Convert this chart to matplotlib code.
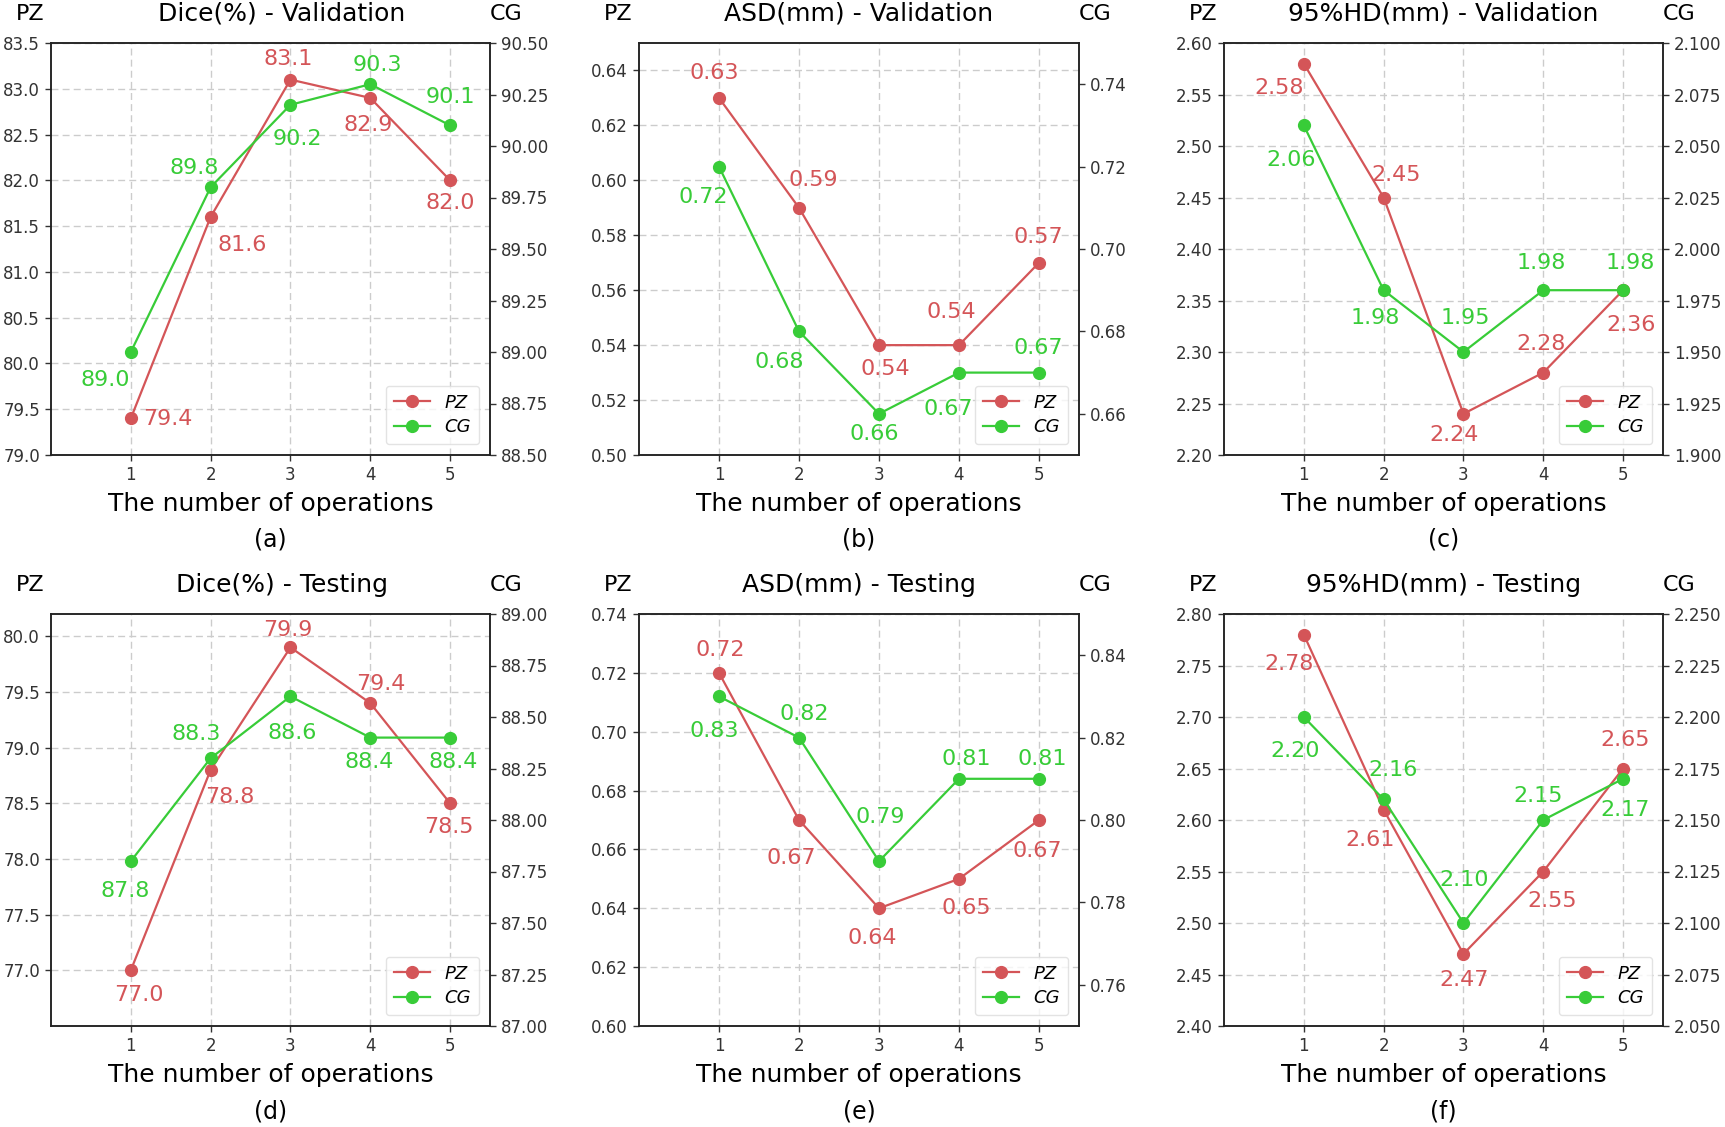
import matplotlib
matplotlib.use("Agg")
import matplotlib.pyplot as plt
import numpy as np

# ---------------- data ----------------
operations = [1, 2, 3, 4, 5]

dice_val_pz = [79.4, 81.6, 83.1, 82.9, 82.0]
dice_val_cg = [89.0, 89.8, 90.2, 90.3, 90.1]
asd_val_pz = [0.63, 0.59, 0.54, 0.54, 0.57]
asd_val_cg = [0.72, 0.68, 0.66, 0.67, 0.67]
hd_val_pz = [2.58, 2.45, 2.24, 2.28, 2.36]
hd_val_cg = [2.06, 1.98, 1.95, 1.98, 1.98]

dice_test_pz = [77.0, 78.8, 79.9, 79.4, 78.5]
dice_test_cg = [87.8, 88.3, 88.6, 88.4, 88.4]
asd_test_pz = [0.72, 0.67, 0.64, 0.65, 0.67]
asd_test_cg = [0.83, 0.82, 0.79, 0.81, 0.81]
hd_test_pz = [2.78, 2.61, 2.47, 2.55, 2.65]
hd_test_cg = [2.20, 2.16, 2.10, 2.15, 2.17]

titles = ["Dice(%) - Validation", "ASD(mm) - Validation", "95%HD(mm) - Validation",
          "Dice(%) - Testing", "ASD(mm) - Testing", "95%HD(mm) - Testing"]
sublabels = ["(a)", "(b)", "(c)", "(d)", "(e)", "(f)"]
xlabel = "The number of operations"
series_names = ["PZ", "CG"]

# ---------------- layout / style ----------------
W, H = 1725, 1127
RED = "#d45558"
GREEN = "#38cc38"
FONT = "DejaVu Sans"

col_lr = [(51, 490), (639, 1079), (1224, 1663)]
row_tb = [(43, 455), (614, 1026)]
title_dx = [11, 0, 0, 11, 0, 0]
OFF_SCALE = 1.08

panels = [
    dict(pz=dice_val_pz, cg=dice_val_cg, fmt="%.1f",
         ylim=(79.0, 83.5), yt=np.arange(79.0, 83.51, 0.5), yfmt="%.1f",
         ylim2=(88.5, 90.5), yt2=np.arange(88.5, 90.51, 0.25), yfmt2="%.2f",
         off_pz=[(34, 0), (29, -25), (-2, 20), (-2, -24), (0, -20)],
         off_cg=[(-24, -25), (-15, 19), (6, -31), (7, 19), (0, 27)]),
    dict(pz=asd_val_pz, cg=asd_val_cg, fmt="%.2f",
         ylim=(0.50, 0.65), yt=np.arange(0.50, 0.641, 0.02), yfmt="%.2f",
         ylim2=(0.65, 0.75), yt2=np.arange(0.66, 0.741, 0.02), yfmt2="%.2f",
         off_pz=[(-4, 24), (13, 27), (6, -21), (-7, 32), (-1, 25)],
         off_cg=[(-15, -27), (-18, -27), (-4, -18), (-10, -33), (-1, 24)]),
    dict(pz=hd_val_pz, cg=hd_val_cg, fmt="%.2f",
         ylim=(2.20, 2.60), yt=np.arange(2.20, 2.601, 0.05), yfmt="%.2f",
         ylim2=(1.900, 2.100), yt2=np.arange(1.900, 2.1001, 0.025), yfmt2="%.3f",
         off_pz=[(-23, -22), (12, 22), (-9, -19), (-2, 27), (7, -31)],
         off_cg=[(-12, -31), (-8, -25), (2, 32), (-2, 26), (7, 26)]),
    dict(pz=dice_test_pz, cg=dice_test_cg, fmt="%.1f",
         ylim=(76.5, 80.2), yt=np.arange(77.0, 80.01, 0.5), yfmt="%.1f",
         ylim2=(87.0, 89.0), yt2=np.arange(87.0, 89.01, 0.25), yfmt2="%.2f",
         off_pz=[(7, -22), (18, -24), (-2, 17), (10, 19), (-1, -21)],
         off_cg=[(-5, -27), (-13, 23), (2, -33), (-1, -22), (3, -22)]),
    dict(pz=asd_test_pz, cg=asd_test_cg, fmt="%.2f",
         ylim=(0.60, 0.74), yt=np.arange(0.60, 0.741, 0.02), yfmt="%.2f",
         ylim2=(0.75, 0.85), yt2=np.arange(0.76, 0.841, 0.02), yfmt2="%.2f",
         off_pz=[(1, 22), (-7, -34), (-6, -27), (7, -26), (-2, -28)],
         off_cg=[(-4, -31), (5, 23), (1, 42), (7, 19), (3, 19)]),
    dict(pz=hd_test_pz, cg=hd_test_cg, fmt="%.2f",
         ylim=(2.40, 2.80), yt=np.arange(2.40, 2.801, 0.05), yfmt="%.2f",
         ylim2=(2.050, 2.250), yt2=np.arange(2.050, 2.2501, 0.025), yfmt2="%.3f",
         off_pz=[(-14, -26), (-13, -27), (1, -23), (8, -26), (2, 27)],
         off_cg=[(-8, -31), (9, 28), (1, 41), (-5, 23), (2, -28)]),
]

plt.rcParams["font.family"] = FONT
fig = plt.figure(figsize=(W / 100, H / 100), dpi=100)


def fx(px):
    return px / W


def fy(py):
    return 1 - py / H


for i, p in enumerate(panels):
    r, c = divmod(i, 3)
    l, rr = col_lr[c]
    t, b = row_tb[r]
    ax = fig.add_axes([fx(l), fy(b), (rr - l) / W, (b - t) / H])
    ax2 = ax.twinx()

    ax.set_xlim(0, 5.5)
    ax.set_xticks(operations)
    ax.set_ylim(*p["ylim"])
    ax.set_yticks(p["yt"])
    ax.set_yticklabels([p["yfmt"] % v for v in p["yt"]])
    ax2.set_ylim(*p["ylim2"])
    ax2.set_yticks(p["yt2"])
    ax2.set_yticklabels([p["yfmt2"] % v for v in p["yt2"]])

    ax.grid(True, linestyle=(0, (5, 3)), color="#cccccc", linewidth=1.0)
    ax.set_axisbelow(True)

    for a in (ax, ax2):
        a.tick_params(labelsize=12, colors="#333333", length=4.5, width=1.0)
        for s in a.spines.values():
            s.set_color("#222222")
            s.set_linewidth(1.1)

    l1, = ax.plot(operations, p["pz"], "-o", color=RED, lw=1.6, ms=8.5,
                  label=series_names[0])
    l2, = ax2.plot(operations, p["cg"], "-o", color=GREEN, lw=1.6, ms=8.5,
                   label=series_names[1])

    for xi, yi, off in zip(operations, p["pz"], p["off_pz"]):
        ax.annotate(p["fmt"] % yi, (xi, yi),
                    xytext=(off[0] * OFF_SCALE, off[1] * OFF_SCALE - 1),
                    textcoords="offset pixels", ha="center", va="center",
                    color=RED, fontsize=16, zorder=5)
    for xi, yi, off in zip(operations, p["cg"], p["off_cg"]):
        ax2.annotate(p["fmt"] % yi, (xi, yi),
                     xytext=(off[0] * OFF_SCALE, off[1] * OFF_SCALE - 1),
                     textcoords="offset pixels", ha="center", va="center",
                     color=GREEN, fontsize=16, zorder=5)

    leg = ax2.legend([l1, l2], series_names, loc="lower right",
                     prop=dict(style="italic", size=13),
                     handlelength=2.0, borderpad=0.45, labelspacing=0.35,
                     borderaxespad=0.6)
    leg.get_frame().set_edgecolor("#dddddd")

    # texts around the axes
    cx = (l + rr) / 2
    fig.text(fx(l - 21), fy(t - 29), "PZ", ha="center", va="center", fontsize=16)
    fig.text(fx(rr + 16), fy(t - 29), "CG", ha="center", va="center", fontsize=16)
    fig.text(fx(cx + title_dx[i]), fy(t - 29), titles[i], ha="center",
             va="center", fontsize=18)
    fig.text(fx(cx), fy(b + 49), xlabel, ha="center", va="center", fontsize=18)
    fig.text(fx(cx), fy(b + 85), sublabels[i], ha="center", va="center",
             fontsize=17)

fig.savefig("out.png", dpi=100)
